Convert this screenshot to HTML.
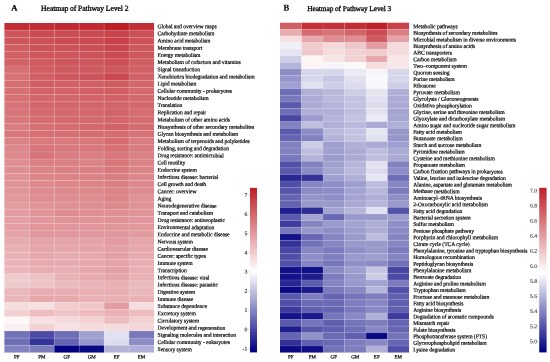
<!DOCTYPE html>
<html><head><meta charset="utf-8"><style>
html,body{margin:0;padding:0;background:#fff;}
body{width:550px;height:362px;overflow:hidden;}
svg{display:block;filter:blur(0.3px);}
text{font-family:"Liberation Serif",serif;fill:#000;stroke:#000;stroke-width:0.18px;}
.rl{font-size:5.7px;letter-spacing:-0.09px;}
.xl{font-size:5px;stroke-width:0.2px;}
.cl{font-size:5.7px;fill:#222;stroke:#222;stroke-width:0.12px;}
.cb{font-size:5.7px;fill:#444;stroke:#444;}
.pl{font-size:8.6px;font-weight:bold;stroke-width:0.2px;}
.tt{font-size:7.7px;stroke-width:0.3px;letter-spacing:-0.09px;}
</style></head><body>
<svg width="550" height="362" viewBox="0 0 550 362">
<rect x="4.40" y="23.00" width="24.98" height="7.21" fill="#c22c34"/>
<rect x="29.33" y="23.00" width="24.98" height="7.21" fill="#c22c34"/>
<rect x="54.27" y="23.00" width="24.98" height="7.21" fill="#c12a32"/>
<rect x="79.20" y="23.00" width="24.98" height="7.21" fill="#c12a32"/>
<rect x="104.13" y="23.00" width="24.98" height="7.21" fill="#be2028"/>
<rect x="129.07" y="23.00" width="24.98" height="7.21" fill="#c22e36"/>
<rect x="4.40" y="30.16" width="24.98" height="7.21" fill="#ce555c"/>
<rect x="29.33" y="30.16" width="24.98" height="7.21" fill="#cb4b52"/>
<rect x="54.27" y="30.16" width="24.98" height="7.21" fill="#cb4d54"/>
<rect x="79.20" y="30.16" width="24.98" height="7.21" fill="#cb4b52"/>
<rect x="104.13" y="30.16" width="24.98" height="7.21" fill="#c8434a"/>
<rect x="129.07" y="30.16" width="24.98" height="7.21" fill="#cc5057"/>
<rect x="4.40" y="37.33" width="24.98" height="7.21" fill="#ce575e"/>
<rect x="29.33" y="37.33" width="24.98" height="7.21" fill="#cc5057"/>
<rect x="54.27" y="37.33" width="24.98" height="7.21" fill="#cb4d54"/>
<rect x="79.20" y="37.33" width="24.98" height="7.21" fill="#cb4b52"/>
<rect x="104.13" y="37.33" width="24.98" height="7.21" fill="#c84148"/>
<rect x="129.07" y="37.33" width="24.98" height="7.21" fill="#cd5259"/>
<rect x="4.40" y="44.49" width="24.98" height="7.21" fill="#d05e63"/>
<rect x="29.33" y="44.49" width="24.98" height="7.21" fill="#cd535a"/>
<rect x="54.27" y="44.49" width="24.98" height="7.21" fill="#cd535a"/>
<rect x="79.20" y="44.49" width="24.98" height="7.21" fill="#cc5057"/>
<rect x="104.13" y="44.49" width="24.98" height="7.21" fill="#c9464d"/>
<rect x="129.07" y="44.49" width="24.98" height="7.21" fill="#ce575e"/>
<rect x="4.40" y="51.65" width="24.98" height="7.21" fill="#d16065"/>
<rect x="29.33" y="51.65" width="24.98" height="7.21" fill="#ce575e"/>
<rect x="54.27" y="51.65" width="24.98" height="7.21" fill="#ce575e"/>
<rect x="79.20" y="51.65" width="24.98" height="7.21" fill="#cd535a"/>
<rect x="104.13" y="51.65" width="24.98" height="7.21" fill="#cb4b52"/>
<rect x="129.07" y="51.65" width="24.98" height="7.21" fill="#ce575e"/>
<rect x="4.40" y="58.82" width="24.98" height="7.21" fill="#d16368"/>
<rect x="29.33" y="58.82" width="24.98" height="7.21" fill="#cf5b60"/>
<rect x="54.27" y="58.82" width="24.98" height="7.21" fill="#ce575e"/>
<rect x="79.20" y="58.82" width="24.98" height="7.21" fill="#ce575e"/>
<rect x="104.13" y="58.82" width="24.98" height="7.21" fill="#cc5057"/>
<rect x="129.07" y="58.82" width="24.98" height="7.21" fill="#d05d62"/>
<rect x="4.40" y="65.98" width="24.98" height="7.21" fill="#d56f74"/>
<rect x="29.33" y="65.98" width="24.98" height="7.21" fill="#d05e63"/>
<rect x="54.27" y="65.98" width="24.98" height="7.21" fill="#cf5b60"/>
<rect x="79.20" y="65.98" width="24.98" height="7.21" fill="#cf5b60"/>
<rect x="104.13" y="65.98" width="24.98" height="7.21" fill="#ce575e"/>
<rect x="129.07" y="65.98" width="24.98" height="7.21" fill="#d16065"/>
<rect x="4.40" y="73.14" width="24.98" height="7.21" fill="#d67277"/>
<rect x="29.33" y="73.14" width="24.98" height="7.21" fill="#d16065"/>
<rect x="54.27" y="73.14" width="24.98" height="7.21" fill="#ce575e"/>
<rect x="79.20" y="73.14" width="24.98" height="7.21" fill="#cd535a"/>
<rect x="104.13" y="73.14" width="24.98" height="7.21" fill="#ca4950"/>
<rect x="129.07" y="73.14" width="24.98" height="7.21" fill="#d16267"/>
<rect x="4.40" y="80.30" width="24.98" height="7.21" fill="#d56e73"/>
<rect x="29.33" y="80.30" width="24.98" height="7.21" fill="#d05f64"/>
<rect x="54.27" y="80.30" width="24.98" height="7.21" fill="#d16166"/>
<rect x="79.20" y="80.30" width="24.98" height="7.21" fill="#d16166"/>
<rect x="104.13" y="80.30" width="24.98" height="7.21" fill="#cf5c61"/>
<rect x="129.07" y="80.30" width="24.98" height="7.21" fill="#d2666b"/>
<rect x="4.40" y="87.47" width="24.98" height="7.21" fill="#d57075"/>
<rect x="29.33" y="87.47" width="24.98" height="7.21" fill="#d16267"/>
<rect x="54.27" y="87.47" width="24.98" height="7.21" fill="#d26469"/>
<rect x="79.20" y="87.47" width="24.98" height="7.21" fill="#d16166"/>
<rect x="104.13" y="87.47" width="24.98" height="7.21" fill="#d05e63"/>
<rect x="129.07" y="87.47" width="24.98" height="7.21" fill="#d3696e"/>
<rect x="4.40" y="94.63" width="24.98" height="7.21" fill="#d57075"/>
<rect x="29.33" y="94.63" width="24.98" height="7.21" fill="#d2666b"/>
<rect x="54.27" y="94.63" width="24.98" height="7.21" fill="#d2666b"/>
<rect x="79.20" y="94.63" width="24.98" height="7.21" fill="#d26469"/>
<rect x="104.13" y="94.63" width="24.98" height="7.21" fill="#d16368"/>
<rect x="129.07" y="94.63" width="24.98" height="7.21" fill="#d3696e"/>
<rect x="4.40" y="101.79" width="24.98" height="7.21" fill="#d67378"/>
<rect x="29.33" y="101.79" width="24.98" height="7.21" fill="#d3676c"/>
<rect x="54.27" y="101.79" width="24.98" height="7.21" fill="#d3676c"/>
<rect x="79.20" y="101.79" width="24.98" height="7.21" fill="#d2666b"/>
<rect x="104.13" y="101.79" width="24.98" height="7.21" fill="#d2656a"/>
<rect x="129.07" y="101.79" width="24.98" height="7.21" fill="#d3696e"/>
<rect x="4.40" y="108.96" width="24.98" height="7.21" fill="#d7757a"/>
<rect x="29.33" y="108.96" width="24.98" height="7.21" fill="#d3696e"/>
<rect x="54.27" y="108.96" width="24.98" height="7.21" fill="#d3696e"/>
<rect x="79.20" y="108.96" width="24.98" height="7.21" fill="#d3676c"/>
<rect x="104.13" y="108.96" width="24.98" height="7.21" fill="#d16368"/>
<rect x="129.07" y="108.96" width="24.98" height="7.21" fill="#d46c71"/>
<rect x="4.40" y="116.12" width="24.98" height="7.21" fill="#d7767b"/>
<rect x="29.33" y="116.12" width="24.98" height="7.21" fill="#d46c71"/>
<rect x="54.27" y="116.12" width="24.98" height="7.21" fill="#d46a6f"/>
<rect x="79.20" y="116.12" width="24.98" height="7.21" fill="#d3686d"/>
<rect x="104.13" y="116.12" width="24.98" height="7.21" fill="#d2666b"/>
<rect x="129.07" y="116.12" width="24.98" height="7.21" fill="#d46c71"/>
<rect x="4.40" y="123.28" width="24.98" height="7.21" fill="#d97e82"/>
<rect x="29.33" y="123.28" width="24.98" height="7.21" fill="#d57075"/>
<rect x="54.27" y="123.28" width="24.98" height="7.21" fill="#d46c71"/>
<rect x="79.20" y="123.28" width="24.98" height="7.21" fill="#d46a6f"/>
<rect x="104.13" y="123.28" width="24.98" height="7.21" fill="#d16368"/>
<rect x="129.07" y="123.28" width="24.98" height="7.21" fill="#d56e73"/>
<rect x="4.40" y="130.45" width="24.98" height="7.21" fill="#d8787d"/>
<rect x="29.33" y="130.45" width="24.98" height="7.21" fill="#d57075"/>
<rect x="54.27" y="130.45" width="24.98" height="7.21" fill="#d57075"/>
<rect x="79.20" y="130.45" width="24.98" height="7.21" fill="#d56e73"/>
<rect x="104.13" y="130.45" width="24.98" height="7.21" fill="#d46d72"/>
<rect x="129.07" y="130.45" width="24.98" height="7.21" fill="#d67378"/>
<rect x="4.40" y="137.61" width="24.98" height="7.21" fill="#db8488"/>
<rect x="29.33" y="137.61" width="24.98" height="7.21" fill="#d8797e"/>
<rect x="54.27" y="137.61" width="24.98" height="7.21" fill="#d8797e"/>
<rect x="79.20" y="137.61" width="24.98" height="7.21" fill="#d7777c"/>
<rect x="104.13" y="137.61" width="24.98" height="7.21" fill="#d46c71"/>
<rect x="129.07" y="137.61" width="24.98" height="7.21" fill="#d97c81"/>
<rect x="4.40" y="144.77" width="24.98" height="7.21" fill="#dc878b"/>
<rect x="29.33" y="144.77" width="24.98" height="7.21" fill="#d7767b"/>
<rect x="54.27" y="144.77" width="24.98" height="7.21" fill="#d8797e"/>
<rect x="79.20" y="144.77" width="24.98" height="7.21" fill="#d8797e"/>
<rect x="104.13" y="144.77" width="24.98" height="7.21" fill="#d67176"/>
<rect x="129.07" y="144.77" width="24.98" height="7.21" fill="#d97c81"/>
<rect x="4.40" y="151.93" width="24.98" height="7.21" fill="#dd898d"/>
<rect x="29.33" y="151.93" width="24.98" height="7.21" fill="#d77479"/>
<rect x="54.27" y="151.93" width="24.98" height="7.21" fill="#d97c81"/>
<rect x="79.20" y="151.93" width="24.98" height="7.21" fill="#da7f83"/>
<rect x="104.13" y="151.93" width="24.98" height="7.21" fill="#d8787d"/>
<rect x="129.07" y="151.93" width="24.98" height="7.21" fill="#da8185"/>
<rect x="4.40" y="159.10" width="24.98" height="7.21" fill="#de8e92"/>
<rect x="29.33" y="159.10" width="24.98" height="7.21" fill="#da8185"/>
<rect x="54.27" y="159.10" width="24.98" height="7.21" fill="#da8185"/>
<rect x="79.20" y="159.10" width="24.98" height="7.21" fill="#db8488"/>
<rect x="104.13" y="159.10" width="24.98" height="7.21" fill="#d7767b"/>
<rect x="129.07" y="159.10" width="24.98" height="7.21" fill="#db8488"/>
<rect x="4.40" y="166.26" width="24.98" height="7.21" fill="#de8e92"/>
<rect x="29.33" y="166.26" width="24.98" height="7.21" fill="#db8488"/>
<rect x="54.27" y="166.26" width="24.98" height="7.21" fill="#da8185"/>
<rect x="79.20" y="166.26" width="24.98" height="7.21" fill="#da8185"/>
<rect x="104.13" y="166.26" width="24.98" height="7.21" fill="#d8787d"/>
<rect x="129.07" y="166.26" width="24.98" height="7.21" fill="#db8488"/>
<rect x="4.40" y="173.42" width="24.98" height="7.21" fill="#df9195"/>
<rect x="29.33" y="173.42" width="24.98" height="7.21" fill="#dc868a"/>
<rect x="54.27" y="173.42" width="24.98" height="7.21" fill="#db8488"/>
<rect x="79.20" y="173.42" width="24.98" height="7.21" fill="#db8488"/>
<rect x="104.13" y="173.42" width="24.98" height="7.21" fill="#d97e82"/>
<rect x="129.07" y="173.42" width="24.98" height="7.21" fill="#dc878b"/>
<rect x="4.40" y="180.59" width="24.98" height="7.21" fill="#e09397"/>
<rect x="29.33" y="180.59" width="24.98" height="7.21" fill="#dd898d"/>
<rect x="54.27" y="180.59" width="24.98" height="7.21" fill="#dc878b"/>
<rect x="79.20" y="180.59" width="24.98" height="7.21" fill="#dc868a"/>
<rect x="104.13" y="180.59" width="24.98" height="7.21" fill="#da8084"/>
<rect x="129.07" y="180.59" width="24.98" height="7.21" fill="#dd898d"/>
<rect x="4.40" y="187.75" width="24.98" height="7.21" fill="#e09599"/>
<rect x="29.33" y="187.75" width="24.98" height="7.21" fill="#dd8b8f"/>
<rect x="54.27" y="187.75" width="24.98" height="7.21" fill="#dd898d"/>
<rect x="79.20" y="187.75" width="24.98" height="7.21" fill="#dc878b"/>
<rect x="104.13" y="187.75" width="24.98" height="7.21" fill="#db8387"/>
<rect x="129.07" y="187.75" width="24.98" height="7.21" fill="#dd8b8f"/>
<rect x="4.40" y="194.91" width="24.98" height="7.21" fill="#e1989c"/>
<rect x="29.33" y="194.91" width="24.98" height="7.21" fill="#de8e92"/>
<rect x="54.27" y="194.91" width="24.98" height="7.21" fill="#de8e92"/>
<rect x="79.20" y="194.91" width="24.98" height="7.21" fill="#dd8c90"/>
<rect x="104.13" y="194.91" width="24.98" height="7.21" fill="#db8589"/>
<rect x="129.07" y="194.91" width="24.98" height="7.21" fill="#df9195"/>
<rect x="4.40" y="202.08" width="24.98" height="7.21" fill="#e29b9f"/>
<rect x="29.33" y="202.08" width="24.98" height="7.21" fill="#e09397"/>
<rect x="54.27" y="202.08" width="24.98" height="7.21" fill="#df9094"/>
<rect x="79.20" y="202.08" width="24.98" height="7.21" fill="#de8e92"/>
<rect x="104.13" y="202.08" width="24.98" height="7.21" fill="#dc888c"/>
<rect x="129.07" y="202.08" width="24.98" height="7.21" fill="#e09397"/>
<rect x="4.40" y="209.24" width="24.98" height="7.21" fill="#e39da1"/>
<rect x="29.33" y="209.24" width="24.98" height="7.21" fill="#e09599"/>
<rect x="54.27" y="209.24" width="24.98" height="7.21" fill="#dd8c90"/>
<rect x="79.20" y="209.24" width="24.98" height="7.21" fill="#de8e92"/>
<rect x="104.13" y="209.24" width="24.98" height="7.21" fill="#df9094"/>
<rect x="129.07" y="209.24" width="24.98" height="7.21" fill="#e09397"/>
<rect x="4.40" y="216.40" width="24.98" height="7.21" fill="#e39fa3"/>
<rect x="29.33" y="216.40" width="24.98" height="7.21" fill="#e0969a"/>
<rect x="54.27" y="216.40" width="24.98" height="7.21" fill="#e09397"/>
<rect x="79.20" y="216.40" width="24.98" height="7.21" fill="#e09397"/>
<rect x="104.13" y="216.40" width="24.98" height="7.21" fill="#e09397"/>
<rect x="129.07" y="216.40" width="24.98" height="7.21" fill="#e0969a"/>
<rect x="4.40" y="223.57" width="24.98" height="7.21" fill="#e39fa3"/>
<rect x="29.33" y="223.57" width="24.98" height="7.21" fill="#e09599"/>
<rect x="54.27" y="223.57" width="24.98" height="7.21" fill="#e0969a"/>
<rect x="79.20" y="223.57" width="24.98" height="7.21" fill="#e0969a"/>
<rect x="104.13" y="223.57" width="24.98" height="7.21" fill="#e09599"/>
<rect x="129.07" y="223.57" width="24.98" height="7.21" fill="#e1989c"/>
<rect x="4.40" y="230.73" width="24.98" height="7.21" fill="#e4a3a6"/>
<rect x="29.33" y="230.73" width="24.98" height="7.21" fill="#e1989c"/>
<rect x="54.27" y="230.73" width="24.98" height="7.21" fill="#e0969a"/>
<rect x="79.20" y="230.73" width="24.98" height="7.21" fill="#e1989c"/>
<rect x="104.13" y="230.73" width="24.98" height="7.21" fill="#e1989c"/>
<rect x="129.07" y="230.73" width="24.98" height="7.21" fill="#e29b9f"/>
<rect x="4.40" y="237.89" width="24.98" height="7.21" fill="#e6abae"/>
<rect x="29.33" y="237.89" width="24.98" height="7.21" fill="#e4a4a7"/>
<rect x="54.27" y="237.89" width="24.98" height="7.21" fill="#e4a4a7"/>
<rect x="79.20" y="237.89" width="24.98" height="7.21" fill="#e4a4a7"/>
<rect x="104.13" y="237.89" width="24.98" height="7.21" fill="#e29b9f"/>
<rect x="129.07" y="237.89" width="24.98" height="7.21" fill="#e5a6a9"/>
<rect x="4.40" y="245.05" width="24.98" height="7.21" fill="#e8b0b3"/>
<rect x="29.33" y="245.05" width="24.98" height="7.21" fill="#e5a6a9"/>
<rect x="54.27" y="245.05" width="24.98" height="7.21" fill="#e5a6a9"/>
<rect x="79.20" y="245.05" width="24.98" height="7.21" fill="#e4a4a7"/>
<rect x="104.13" y="245.05" width="24.98" height="7.21" fill="#e3a0a4"/>
<rect x="129.07" y="245.05" width="24.98" height="7.21" fill="#e6a8ab"/>
<rect x="4.40" y="252.22" width="24.98" height="7.21" fill="#e9b2b5"/>
<rect x="29.33" y="252.22" width="24.98" height="7.21" fill="#e6a8ab"/>
<rect x="54.27" y="252.22" width="24.98" height="7.21" fill="#e6abae"/>
<rect x="79.20" y="252.22" width="24.98" height="7.21" fill="#e6a8ab"/>
<rect x="104.13" y="252.22" width="24.98" height="7.21" fill="#e3a0a4"/>
<rect x="129.07" y="252.22" width="24.98" height="7.21" fill="#e6abae"/>
<rect x="4.40" y="259.38" width="24.98" height="7.21" fill="#e9b5b8"/>
<rect x="29.33" y="259.38" width="24.98" height="7.21" fill="#e6abae"/>
<rect x="54.27" y="259.38" width="24.98" height="7.21" fill="#e6abae"/>
<rect x="79.20" y="259.38" width="24.98" height="7.21" fill="#e6a8ab"/>
<rect x="104.13" y="259.38" width="24.98" height="7.21" fill="#e4a4a7"/>
<rect x="129.07" y="259.38" width="24.98" height="7.21" fill="#e7adb0"/>
<rect x="4.40" y="266.54" width="24.98" height="7.21" fill="#e9b5b8"/>
<rect x="29.33" y="266.54" width="24.98" height="7.21" fill="#e7adb0"/>
<rect x="54.27" y="266.54" width="24.98" height="7.21" fill="#e8b0b3"/>
<rect x="79.20" y="266.54" width="24.98" height="7.21" fill="#e6a8ab"/>
<rect x="104.13" y="266.54" width="24.98" height="7.21" fill="#e3a0a4"/>
<rect x="129.07" y="266.54" width="24.98" height="7.21" fill="#e8b0b3"/>
<rect x="4.40" y="273.71" width="24.98" height="7.21" fill="#efcacb"/>
<rect x="29.33" y="273.71" width="24.98" height="7.21" fill="#edc2c5"/>
<rect x="54.27" y="273.71" width="24.98" height="7.21" fill="#e9b2b5"/>
<rect x="79.20" y="273.71" width="24.98" height="7.21" fill="#e6abae"/>
<rect x="104.13" y="273.71" width="24.98" height="7.21" fill="#e5a6a9"/>
<rect x="129.07" y="273.71" width="24.98" height="7.21" fill="#e9b2b5"/>
<rect x="4.40" y="280.87" width="24.98" height="7.21" fill="#efcacb"/>
<rect x="29.33" y="280.87" width="24.98" height="7.21" fill="#eec4c7"/>
<rect x="54.27" y="280.87" width="24.98" height="7.21" fill="#ebbabd"/>
<rect x="79.20" y="280.87" width="24.98" height="7.21" fill="#e9b5b8"/>
<rect x="104.13" y="280.87" width="24.98" height="7.21" fill="#e8b0b3"/>
<rect x="129.07" y="280.87" width="24.98" height="7.21" fill="#ebbabd"/>
<rect x="4.40" y="288.03" width="24.98" height="7.21" fill="#eab7ba"/>
<rect x="29.33" y="288.03" width="24.98" height="7.21" fill="#e7adb0"/>
<rect x="54.27" y="288.03" width="24.98" height="7.21" fill="#e7adb0"/>
<rect x="79.20" y="288.03" width="24.98" height="7.21" fill="#e8b0b3"/>
<rect x="104.13" y="288.03" width="24.98" height="7.21" fill="#e7adb0"/>
<rect x="129.07" y="288.03" width="24.98" height="7.21" fill="#eab7ba"/>
<rect x="4.40" y="295.20" width="24.98" height="7.21" fill="#eab7ba"/>
<rect x="29.33" y="295.20" width="24.98" height="7.21" fill="#e6a8ab"/>
<rect x="54.27" y="295.20" width="24.98" height="7.21" fill="#e6aaad"/>
<rect x="79.20" y="295.20" width="24.98" height="7.21" fill="#e8b0b3"/>
<rect x="104.13" y="295.20" width="24.98" height="7.21" fill="#e8b0b3"/>
<rect x="129.07" y="295.20" width="24.98" height="7.21" fill="#e9b2b5"/>
<rect x="4.40" y="302.36" width="24.98" height="7.21" fill="#f5ddde"/>
<rect x="29.33" y="302.36" width="24.98" height="7.21" fill="#f6e0e1"/>
<rect x="54.27" y="302.36" width="24.98" height="7.21" fill="#f0cccd"/>
<rect x="79.20" y="302.36" width="24.98" height="7.21" fill="#efc6c9"/>
<rect x="104.13" y="302.36" width="24.98" height="7.21" fill="#e39da1"/>
<rect x="129.07" y="302.36" width="24.98" height="7.21" fill="#f5ddde"/>
<rect x="4.40" y="309.52" width="24.98" height="7.21" fill="#f2d1d2"/>
<rect x="29.33" y="309.52" width="24.98" height="7.21" fill="#ecbcbf"/>
<rect x="54.27" y="309.52" width="24.98" height="7.21" fill="#eec4c7"/>
<rect x="79.20" y="309.52" width="24.98" height="7.21" fill="#ecbcbf"/>
<rect x="104.13" y="309.52" width="24.98" height="7.21" fill="#e9b2b5"/>
<rect x="129.07" y="309.52" width="24.98" height="7.21" fill="#ecbcbf"/>
<rect x="4.40" y="316.68" width="24.98" height="7.21" fill="#fdf8f8"/>
<rect x="29.33" y="316.68" width="24.98" height="7.21" fill="#f6e0e1"/>
<rect x="54.27" y="316.68" width="24.98" height="7.21" fill="#f4d9da"/>
<rect x="79.20" y="316.68" width="24.98" height="7.21" fill="#f2d1d2"/>
<rect x="104.13" y="316.68" width="24.98" height="7.21" fill="#ecbcbf"/>
<rect x="129.07" y="316.68" width="24.98" height="7.21" fill="#f2d1d2"/>
<rect x="4.40" y="323.85" width="24.98" height="7.21" fill="#fbf0f0"/>
<rect x="29.33" y="323.85" width="24.98" height="7.21" fill="#f2d1d2"/>
<rect x="54.27" y="323.85" width="24.98" height="7.21" fill="#f6e0e1"/>
<rect x="79.20" y="323.85" width="24.98" height="7.21" fill="#f5dbdc"/>
<rect x="104.13" y="323.85" width="24.98" height="7.21" fill="#f5ddde"/>
<rect x="129.07" y="323.85" width="24.98" height="7.21" fill="#f3d6d7"/>
<rect x="4.40" y="331.01" width="24.98" height="7.21" fill="#7373b9"/>
<rect x="29.33" y="331.01" width="24.98" height="7.21" fill="#4b4ba5"/>
<rect x="54.27" y="331.01" width="24.98" height="7.21" fill="#6e6eb7"/>
<rect x="79.20" y="331.01" width="24.98" height="7.21" fill="#a0a0d0"/>
<rect x="104.13" y="331.01" width="24.98" height="7.21" fill="#e1e1f0"/>
<rect x="129.07" y="331.01" width="24.98" height="7.21" fill="#7878bc"/>
<rect x="4.40" y="338.17" width="24.98" height="7.21" fill="#6e6eb7"/>
<rect x="29.33" y="338.17" width="24.98" height="7.21" fill="#323299"/>
<rect x="54.27" y="338.17" width="24.98" height="7.21" fill="#6464b2"/>
<rect x="79.20" y="338.17" width="24.98" height="7.21" fill="#9696cb"/>
<rect x="104.13" y="338.17" width="24.98" height="7.21" fill="#dcdcee"/>
<rect x="129.07" y="338.17" width="24.98" height="7.21" fill="#8c8cc6"/>
<rect x="4.40" y="345.34" width="24.98" height="7.21" fill="#8282c1"/>
<rect x="29.33" y="345.34" width="24.98" height="7.21" fill="#7d7dbe"/>
<rect x="54.27" y="345.34" width="24.98" height="7.21" fill="#000080"/>
<rect x="79.20" y="345.34" width="24.98" height="7.21" fill="#0a0a85"/>
<rect x="104.13" y="345.34" width="24.98" height="7.21" fill="#b4b4da"/>
<rect x="129.07" y="345.34" width="24.98" height="7.21" fill="#afafd7"/>
<path d="M29.33 23.00V352.50M54.27 23.00V352.50M79.20 23.00V352.50M104.13 23.00V352.50M129.07 23.00V352.50M4.40 30.16H154.00M4.40 37.33H154.00M4.40 44.49H154.00M4.40 51.65H154.00M4.40 58.82H154.00M4.40 65.98H154.00M4.40 73.14H154.00M4.40 80.30H154.00M4.40 87.47H154.00M4.40 94.63H154.00M4.40 101.79H154.00M4.40 108.96H154.00M4.40 116.12H154.00M4.40 123.28H154.00M4.40 130.45H154.00M4.40 137.61H154.00M4.40 144.77H154.00M4.40 151.93H154.00M4.40 159.10H154.00M4.40 166.26H154.00M4.40 173.42H154.00M4.40 180.59H154.00M4.40 187.75H154.00M4.40 194.91H154.00M4.40 202.08H154.00M4.40 209.24H154.00M4.40 216.40H154.00M4.40 223.57H154.00M4.40 230.73H154.00M4.40 237.89H154.00M4.40 245.05H154.00M4.40 252.22H154.00M4.40 259.38H154.00M4.40 266.54H154.00M4.40 273.71H154.00M4.40 280.87H154.00M4.40 288.03H154.00M4.40 295.20H154.00M4.40 302.36H154.00M4.40 309.52H154.00M4.40 316.68H154.00M4.40 323.85H154.00M4.40 331.01H154.00M4.40 338.17H154.00M4.40 345.34H154.00" stroke="#ffffff" stroke-opacity="0.18" stroke-width="0.7" fill="none"/>
<text x="157.60" y="28.15" transform="rotate(0.05 157.60 28.15)" class="rl">Global and overview maps</text>
<text x="157.60" y="35.32" transform="rotate(0.05 157.60 35.32)" class="rl">Carbohydrate metabolism</text>
<text x="157.60" y="42.50" transform="rotate(0.05 157.60 42.50)" class="rl">Amino acid metabolism</text>
<text x="157.60" y="49.68" transform="rotate(0.05 157.60 49.68)" class="rl">Membrane transport</text>
<text x="157.60" y="56.86" transform="rotate(0.05 157.60 56.86)" class="rl">Energy metabolism</text>
<text x="157.60" y="64.03" transform="rotate(0.05 157.60 64.03)" class="rl">Metabolism of cofactors and vitamins</text>
<text x="157.60" y="71.21" transform="rotate(0.05 157.60 71.21)" class="rl">Signal transduction</text>
<text x="157.60" y="78.39" transform="rotate(0.05 157.60 78.39)" class="rl">Xenobiotics biodegradation and metabolism</text>
<text x="157.60" y="85.57" transform="rotate(0.05 157.60 85.57)" class="rl">Lipid metabolism</text>
<text x="157.60" y="92.74" transform="rotate(0.05 157.60 92.74)" class="rl">Cellular community - prokaryotes</text>
<text x="157.60" y="99.92" transform="rotate(0.05 157.60 99.92)" class="rl">Nucleotide metabolism</text>
<text x="157.60" y="107.10" transform="rotate(0.05 157.60 107.10)" class="rl">Translation</text>
<text x="157.60" y="114.28" transform="rotate(0.05 157.60 114.28)" class="rl">Replication and repair</text>
<text x="157.60" y="121.45" transform="rotate(0.05 157.60 121.45)" class="rl">Metabolism of other amino acids</text>
<text x="157.60" y="128.63" transform="rotate(0.05 157.60 128.63)" class="rl">Biosynthesis of other secondary metabolites</text>
<text x="157.60" y="135.81" transform="rotate(0.05 157.60 135.81)" class="rl">Glycan biosynthesis and metabolism</text>
<text x="157.60" y="142.99" transform="rotate(0.05 157.60 142.99)" class="rl">Metabolism of terpenoids and polyketides</text>
<text x="157.60" y="150.16" transform="rotate(0.05 157.60 150.16)" class="rl">Folding, sorting and degradation</text>
<text x="157.60" y="157.34" transform="rotate(0.05 157.60 157.34)" class="rl">Drug resistance: antimicrobial</text>
<text x="157.60" y="164.52" transform="rotate(0.05 157.60 164.52)" class="rl">Cell motility</text>
<text x="157.60" y="171.70" transform="rotate(0.05 157.60 171.70)" class="rl">Endocrine system</text>
<text x="157.60" y="178.87" transform="rotate(0.05 157.60 178.87)" class="rl">Infectious disease: bacterial</text>
<text x="157.60" y="186.05" transform="rotate(0.05 157.60 186.05)" class="rl">Cell growth and death</text>
<text x="157.60" y="193.23" transform="rotate(0.05 157.60 193.23)" class="rl">Cancer: overview</text>
<text x="157.60" y="200.41" transform="rotate(0.05 157.60 200.41)" class="rl">Aging</text>
<text x="157.60" y="207.58" transform="rotate(0.05 157.60 207.58)" class="rl">Neurodegenerative disease</text>
<text x="157.60" y="214.76" transform="rotate(0.05 157.60 214.76)" class="rl">Transport and catabolism</text>
<text x="157.60" y="221.94" transform="rotate(0.05 157.60 221.94)" class="rl">Drug resistance: antineoplastic</text>
<text x="157.60" y="229.12" transform="rotate(0.05 157.60 229.12)" class="rl">Environmental adaptation</text>
<text x="157.60" y="236.29" transform="rotate(0.05 157.60 236.29)" class="rl">Endocrine and metabolic disease</text>
<text x="157.60" y="243.47" transform="rotate(0.05 157.60 243.47)" class="rl">Nervous system</text>
<text x="157.60" y="250.65" transform="rotate(0.05 157.60 250.65)" class="rl">Cardiovascular disease</text>
<text x="157.60" y="257.83" transform="rotate(0.05 157.60 257.83)" class="rl">Cancer: specific types</text>
<text x="157.60" y="265.00" transform="rotate(0.05 157.60 265.00)" class="rl">Immune system</text>
<text x="157.60" y="272.18" transform="rotate(0.05 157.60 272.18)" class="rl">Transcription</text>
<text x="157.60" y="279.36" transform="rotate(0.05 157.60 279.36)" class="rl">Infectious disease: viral</text>
<text x="157.60" y="286.54" transform="rotate(0.05 157.60 286.54)" class="rl">Infectious disease: parasitic</text>
<text x="157.60" y="293.71" transform="rotate(0.05 157.60 293.71)" class="rl">Digestive system</text>
<text x="157.60" y="300.89" transform="rotate(0.05 157.60 300.89)" class="rl">Immune disease</text>
<text x="157.60" y="308.07" transform="rotate(0.05 157.60 308.07)" class="rl">Substance dependence</text>
<text x="157.60" y="315.25" transform="rotate(0.05 157.60 315.25)" class="rl">Excretory system</text>
<text x="157.60" y="322.42" transform="rotate(0.05 157.60 322.42)" class="rl">Circulatory system</text>
<text x="157.60" y="329.60" transform="rotate(0.05 157.60 329.60)" class="rl">Development and regeneration</text>
<text x="157.60" y="336.78" transform="rotate(0.05 157.60 336.78)" class="rl">Signaling molecules and interaction</text>
<text x="157.60" y="343.96" transform="rotate(0.05 157.60 343.96)" class="rl">Cellular community - eukaryotes</text>
<text x="157.60" y="351.13" transform="rotate(0.05 157.60 351.13)" class="rl">Sensory system</text>
<text x="16.87" y="358.40" transform="rotate(0.05 16.87 358.40)" class="xl" text-anchor="middle">PF</text>
<text x="41.80" y="358.40" transform="rotate(0.05 41.80 358.40)" class="xl" text-anchor="middle">PM</text>
<text x="66.73" y="358.40" transform="rotate(0.05 66.73 358.40)" class="xl" text-anchor="middle">GF</text>
<text x="91.67" y="358.40" transform="rotate(0.05 91.67 358.40)" class="xl" text-anchor="middle">GM</text>
<text x="116.60" y="358.40" transform="rotate(0.05 116.60 358.40)" class="xl" text-anchor="middle">EF</text>
<text x="141.53" y="358.40" transform="rotate(0.05 141.53 358.40)" class="xl" text-anchor="middle">EM</text>
<rect x="280.00" y="22.70" width="21.55" height="6.65" fill="#d16065"/>
<rect x="301.50" y="22.70" width="21.55" height="6.65" fill="#c33139"/>
<rect x="323.00" y="22.70" width="21.55" height="6.65" fill="#c33139"/>
<rect x="344.50" y="22.70" width="21.55" height="6.65" fill="#c22c34"/>
<rect x="366.00" y="22.70" width="21.55" height="6.65" fill="#be2028"/>
<rect x="387.50" y="22.70" width="21.55" height="6.65" fill="#c84148"/>
<rect x="280.00" y="29.30" width="21.55" height="6.65" fill="#e7adb0"/>
<rect x="301.50" y="29.30" width="21.55" height="6.65" fill="#d46a6f"/>
<rect x="323.00" y="29.30" width="21.55" height="6.65" fill="#d77479"/>
<rect x="344.50" y="29.30" width="21.55" height="6.65" fill="#d2656a"/>
<rect x="366.00" y="29.30" width="21.55" height="6.65" fill="#cb4b52"/>
<rect x="387.50" y="29.30" width="21.55" height="6.65" fill="#da7f83"/>
<rect x="280.00" y="35.89" width="21.55" height="6.65" fill="#f6e0e1"/>
<rect x="301.50" y="35.89" width="21.55" height="6.65" fill="#e6a8ab"/>
<rect x="323.00" y="35.89" width="21.55" height="6.65" fill="#de8e92"/>
<rect x="344.50" y="35.89" width="21.55" height="6.65" fill="#de8e92"/>
<rect x="366.00" y="35.89" width="21.55" height="6.65" fill="#cf5b60"/>
<rect x="387.50" y="35.89" width="21.55" height="6.65" fill="#e4a3a6"/>
<rect x="280.00" y="42.49" width="21.55" height="6.65" fill="#f0f0f8"/>
<rect x="301.50" y="42.49" width="21.55" height="6.65" fill="#f0cccd"/>
<rect x="323.00" y="42.49" width="21.55" height="6.65" fill="#f5dbdc"/>
<rect x="344.50" y="42.49" width="21.55" height="6.65" fill="#efc6c9"/>
<rect x="366.00" y="42.49" width="21.55" height="6.65" fill="#e39da1"/>
<rect x="387.50" y="42.49" width="21.55" height="6.65" fill="#f5dbdc"/>
<rect x="280.00" y="49.08" width="21.55" height="6.65" fill="#e4e4f2"/>
<rect x="301.50" y="49.08" width="21.55" height="6.65" fill="#efc6c9"/>
<rect x="323.00" y="49.08" width="21.55" height="6.65" fill="#f5ddde"/>
<rect x="344.50" y="49.08" width="21.55" height="6.65" fill="#f2d1d2"/>
<rect x="366.00" y="49.08" width="21.55" height="6.65" fill="#f0cccd"/>
<rect x="387.50" y="49.08" width="21.55" height="6.65" fill="#f5dbdc"/>
<rect x="280.00" y="55.68" width="21.55" height="6.65" fill="#cdcde6"/>
<rect x="301.50" y="55.68" width="21.55" height="6.65" fill="#fcf5f5"/>
<rect x="323.00" y="55.68" width="21.55" height="6.65" fill="#f8e5e6"/>
<rect x="344.50" y="55.68" width="21.55" height="6.65" fill="#f2d3d4"/>
<rect x="366.00" y="55.68" width="21.55" height="6.65" fill="#e6a8ab"/>
<rect x="387.50" y="55.68" width="21.55" height="6.65" fill="#f8e7e8"/>
<rect x="280.00" y="62.28" width="21.55" height="6.65" fill="#b4b4da"/>
<rect x="301.50" y="62.28" width="21.55" height="6.65" fill="#fcf5f5"/>
<rect x="323.00" y="62.28" width="21.55" height="6.65" fill="#f5f5fa"/>
<rect x="344.50" y="62.28" width="21.55" height="6.65" fill="#fefafa"/>
<rect x="366.00" y="62.28" width="21.55" height="6.65" fill="#f5ddde"/>
<rect x="387.50" y="62.28" width="21.55" height="6.65" fill="#f8e7e8"/>
<rect x="280.00" y="68.87" width="21.55" height="6.65" fill="#8c8cc6"/>
<rect x="301.50" y="68.87" width="21.55" height="6.65" fill="#d7d7eb"/>
<rect x="323.00" y="68.87" width="21.55" height="6.65" fill="#d7d7eb"/>
<rect x="344.50" y="68.87" width="21.55" height="6.65" fill="#ebebf5"/>
<rect x="366.00" y="68.87" width="21.55" height="6.65" fill="#f5f5fa"/>
<rect x="387.50" y="68.87" width="21.55" height="6.65" fill="#d7d7eb"/>
<rect x="280.00" y="75.47" width="21.55" height="6.65" fill="#9696cb"/>
<rect x="301.50" y="75.47" width="21.55" height="6.65" fill="#d7d7eb"/>
<rect x="323.00" y="75.47" width="21.55" height="6.65" fill="#c8c8e4"/>
<rect x="344.50" y="75.47" width="21.55" height="6.65" fill="#e1e1f0"/>
<rect x="366.00" y="75.47" width="21.55" height="6.65" fill="#fafafd"/>
<rect x="387.50" y="75.47" width="21.55" height="6.65" fill="#d7d7eb"/>
<rect x="280.00" y="82.06" width="21.55" height="6.65" fill="#a0a0d0"/>
<rect x="301.50" y="82.06" width="21.55" height="6.65" fill="#e1e1f0"/>
<rect x="323.00" y="82.06" width="21.55" height="6.65" fill="#cdcde6"/>
<rect x="344.50" y="82.06" width="21.55" height="6.65" fill="#dcdcee"/>
<rect x="366.00" y="82.06" width="21.55" height="6.65" fill="#f8f8fc"/>
<rect x="387.50" y="82.06" width="21.55" height="6.65" fill="#cdcde6"/>
<rect x="280.00" y="88.66" width="21.55" height="6.65" fill="#6e6eb7"/>
<rect x="301.50" y="88.66" width="21.55" height="6.65" fill="#afafd7"/>
<rect x="323.00" y="88.66" width="21.55" height="6.65" fill="#b9b9dc"/>
<rect x="344.50" y="88.66" width="21.55" height="6.65" fill="#cdcde6"/>
<rect x="366.00" y="88.66" width="21.55" height="6.65" fill="#e6e6f3"/>
<rect x="387.50" y="88.66" width="21.55" height="6.65" fill="#afafd7"/>
<rect x="280.00" y="95.26" width="21.55" height="6.65" fill="#7878bc"/>
<rect x="301.50" y="95.26" width="21.55" height="6.65" fill="#aaaad5"/>
<rect x="323.00" y="95.26" width="21.55" height="6.65" fill="#b9b9dc"/>
<rect x="344.50" y="95.26" width="21.55" height="6.65" fill="#c3c3e1"/>
<rect x="366.00" y="95.26" width="21.55" height="6.65" fill="#e1e1f0"/>
<rect x="387.50" y="95.26" width="21.55" height="6.65" fill="#aaaad5"/>
<rect x="280.00" y="101.85" width="21.55" height="6.65" fill="#5a5aad"/>
<rect x="301.50" y="101.85" width="21.55" height="6.65" fill="#aaaad5"/>
<rect x="323.00" y="101.85" width="21.55" height="6.65" fill="#b4b4da"/>
<rect x="344.50" y="101.85" width="21.55" height="6.65" fill="#c3c3e1"/>
<rect x="366.00" y="101.85" width="21.55" height="6.65" fill="#dcdcee"/>
<rect x="387.50" y="101.85" width="21.55" height="6.65" fill="#aaaad5"/>
<rect x="280.00" y="108.45" width="21.55" height="6.65" fill="#6e6eb7"/>
<rect x="301.50" y="108.45" width="21.55" height="6.65" fill="#afafd7"/>
<rect x="323.00" y="108.45" width="21.55" height="6.65" fill="#afafd7"/>
<rect x="344.50" y="108.45" width="21.55" height="6.65" fill="#bebedf"/>
<rect x="366.00" y="108.45" width="21.55" height="6.65" fill="#e1e1f0"/>
<rect x="387.50" y="108.45" width="21.55" height="6.65" fill="#a5a5d2"/>
<rect x="280.00" y="115.04" width="21.55" height="6.65" fill="#4646a3"/>
<rect x="301.50" y="115.04" width="21.55" height="6.65" fill="#9b9bcd"/>
<rect x="323.00" y="115.04" width="21.55" height="6.65" fill="#b4b4da"/>
<rect x="344.50" y="115.04" width="21.55" height="6.65" fill="#c3c3e1"/>
<rect x="366.00" y="115.04" width="21.55" height="6.65" fill="#ebebf5"/>
<rect x="387.50" y="115.04" width="21.55" height="6.65" fill="#a5a5d2"/>
<rect x="280.00" y="121.64" width="21.55" height="6.65" fill="#8282c1"/>
<rect x="301.50" y="121.64" width="21.55" height="6.65" fill="#bebedf"/>
<rect x="323.00" y="121.64" width="21.55" height="6.65" fill="#afafd7"/>
<rect x="344.50" y="121.64" width="21.55" height="6.65" fill="#b9b9dc"/>
<rect x="366.00" y="121.64" width="21.55" height="6.65" fill="#aaaad5"/>
<rect x="387.50" y="121.64" width="21.55" height="6.65" fill="#afafd7"/>
<rect x="280.00" y="128.24" width="21.55" height="6.65" fill="#5a5aad"/>
<rect x="301.50" y="128.24" width="21.55" height="6.65" fill="#8c8cc6"/>
<rect x="323.00" y="128.24" width="21.55" height="6.65" fill="#b9b9dc"/>
<rect x="344.50" y="128.24" width="21.55" height="6.65" fill="#c3c3e1"/>
<rect x="366.00" y="128.24" width="21.55" height="6.65" fill="#e6e6f3"/>
<rect x="387.50" y="128.24" width="21.55" height="6.65" fill="#9696cb"/>
<rect x="280.00" y="134.83" width="21.55" height="6.65" fill="#6464b2"/>
<rect x="301.50" y="134.83" width="21.55" height="6.65" fill="#8282c1"/>
<rect x="323.00" y="134.83" width="21.55" height="6.65" fill="#b4b4da"/>
<rect x="344.50" y="134.83" width="21.55" height="6.65" fill="#c3c3e1"/>
<rect x="366.00" y="134.83" width="21.55" height="6.65" fill="#e1e1f0"/>
<rect x="387.50" y="134.83" width="21.55" height="6.65" fill="#9696cb"/>
<rect x="280.00" y="141.43" width="21.55" height="6.65" fill="#8282c1"/>
<rect x="301.50" y="141.43" width="21.55" height="6.65" fill="#cdcde6"/>
<rect x="323.00" y="141.43" width="21.55" height="6.65" fill="#a0a0d0"/>
<rect x="344.50" y="141.43" width="21.55" height="6.65" fill="#afafd7"/>
<rect x="366.00" y="141.43" width="21.55" height="6.65" fill="#aaaad5"/>
<rect x="387.50" y="141.43" width="21.55" height="6.65" fill="#a0a0d0"/>
<rect x="280.00" y="148.02" width="21.55" height="6.65" fill="#8282c1"/>
<rect x="301.50" y="148.02" width="21.55" height="6.65" fill="#bebedf"/>
<rect x="323.00" y="148.02" width="21.55" height="6.65" fill="#a0a0d0"/>
<rect x="344.50" y="148.02" width="21.55" height="6.65" fill="#aaaad5"/>
<rect x="366.00" y="148.02" width="21.55" height="6.65" fill="#bebedf"/>
<rect x="387.50" y="148.02" width="21.55" height="6.65" fill="#aaaad5"/>
<rect x="280.00" y="154.62" width="21.55" height="6.65" fill="#7878bc"/>
<rect x="301.50" y="154.62" width="21.55" height="6.65" fill="#b4b4da"/>
<rect x="323.00" y="154.62" width="21.55" height="6.65" fill="#9b9bcd"/>
<rect x="344.50" y="154.62" width="21.55" height="6.65" fill="#aaaad5"/>
<rect x="366.00" y="154.62" width="21.55" height="6.65" fill="#bebedf"/>
<rect x="387.50" y="154.62" width="21.55" height="6.65" fill="#aaaad5"/>
<rect x="280.00" y="161.22" width="21.55" height="6.65" fill="#5050a8"/>
<rect x="301.50" y="161.22" width="21.55" height="6.65" fill="#8282c1"/>
<rect x="323.00" y="161.22" width="21.55" height="6.65" fill="#a0a0d0"/>
<rect x="344.50" y="161.22" width="21.55" height="6.65" fill="#b4b4da"/>
<rect x="366.00" y="161.22" width="21.55" height="6.65" fill="#e1e1f0"/>
<rect x="387.50" y="161.22" width="21.55" height="6.65" fill="#8282c1"/>
<rect x="280.00" y="167.81" width="21.55" height="6.65" fill="#5a5aad"/>
<rect x="301.50" y="167.81" width="21.55" height="6.65" fill="#8c8cc6"/>
<rect x="323.00" y="167.81" width="21.55" height="6.65" fill="#a5a5d2"/>
<rect x="344.50" y="167.81" width="21.55" height="6.65" fill="#b9b9dc"/>
<rect x="366.00" y="167.81" width="21.55" height="6.65" fill="#dcdcee"/>
<rect x="387.50" y="167.81" width="21.55" height="6.65" fill="#8c8cc6"/>
<rect x="280.00" y="174.41" width="21.55" height="6.65" fill="#282894"/>
<rect x="301.50" y="174.41" width="21.55" height="6.65" fill="#323299"/>
<rect x="323.00" y="174.41" width="21.55" height="6.65" fill="#a0a0d0"/>
<rect x="344.50" y="174.41" width="21.55" height="6.65" fill="#afafd7"/>
<rect x="366.00" y="174.41" width="21.55" height="6.65" fill="#e6e6f3"/>
<rect x="387.50" y="174.41" width="21.55" height="6.65" fill="#6e6eb7"/>
<rect x="280.00" y="181.00" width="21.55" height="6.65" fill="#5050a8"/>
<rect x="301.50" y="181.00" width="21.55" height="6.65" fill="#8585c2"/>
<rect x="323.00" y="181.00" width="21.55" height="6.65" fill="#8f8fc7"/>
<rect x="344.50" y="181.00" width="21.55" height="6.65" fill="#9e9ecf"/>
<rect x="366.00" y="181.00" width="21.55" height="6.65" fill="#bcbcde"/>
<rect x="387.50" y="181.00" width="21.55" height="6.65" fill="#8585c2"/>
<rect x="280.00" y="187.60" width="21.55" height="6.65" fill="#5555aa"/>
<rect x="301.50" y="187.60" width="21.55" height="6.65" fill="#8a8ac5"/>
<rect x="323.00" y="187.60" width="21.55" height="6.65" fill="#8f8fc7"/>
<rect x="344.50" y="187.60" width="21.55" height="6.65" fill="#a3a3d1"/>
<rect x="366.00" y="187.60" width="21.55" height="6.65" fill="#b7b7db"/>
<rect x="387.50" y="187.60" width="21.55" height="6.65" fill="#7b7bbd"/>
<rect x="280.00" y="194.20" width="21.55" height="6.65" fill="#6464b2"/>
<rect x="301.50" y="194.20" width="21.55" height="6.65" fill="#9494ca"/>
<rect x="323.00" y="194.20" width="21.55" height="6.65" fill="#8f8fc7"/>
<rect x="344.50" y="194.20" width="21.55" height="6.65" fill="#a3a3d1"/>
<rect x="366.00" y="194.20" width="21.55" height="6.65" fill="#adadd6"/>
<rect x="387.50" y="194.20" width="21.55" height="6.65" fill="#8f8fc7"/>
<rect x="280.00" y="200.79" width="21.55" height="6.65" fill="#6464b2"/>
<rect x="301.50" y="200.79" width="21.55" height="6.65" fill="#9999cc"/>
<rect x="323.00" y="200.79" width="21.55" height="6.65" fill="#9999cc"/>
<rect x="344.50" y="200.79" width="21.55" height="6.65" fill="#a8a8d4"/>
<rect x="366.00" y="200.79" width="21.55" height="6.65" fill="#b7b7db"/>
<rect x="387.50" y="200.79" width="21.55" height="6.65" fill="#9999cc"/>
<rect x="280.00" y="207.39" width="21.55" height="6.65" fill="#1e1e8f"/>
<rect x="301.50" y="207.39" width="21.55" height="6.65" fill="#2d2d96"/>
<rect x="323.00" y="207.39" width="21.55" height="6.65" fill="#a3a3d1"/>
<rect x="344.50" y="207.39" width="21.55" height="6.65" fill="#b7b7db"/>
<rect x="366.00" y="207.39" width="21.55" height="6.65" fill="#e1e1f0"/>
<rect x="387.50" y="207.39" width="21.55" height="6.65" fill="#5353a9"/>
<rect x="280.00" y="213.98" width="21.55" height="6.65" fill="#5a5aad"/>
<rect x="301.50" y="213.98" width="21.55" height="6.65" fill="#a3a3d1"/>
<rect x="323.00" y="213.98" width="21.55" height="6.65" fill="#6767b3"/>
<rect x="344.50" y="213.98" width="21.55" height="6.65" fill="#9999cc"/>
<rect x="366.00" y="213.98" width="21.55" height="6.65" fill="#9999cc"/>
<rect x="387.50" y="213.98" width="21.55" height="6.65" fill="#9e9ecf"/>
<rect x="280.00" y="220.58" width="21.55" height="6.65" fill="#3c3c9e"/>
<rect x="301.50" y="220.58" width="21.55" height="6.65" fill="#8585c2"/>
<rect x="323.00" y="220.58" width="21.55" height="6.65" fill="#9999cc"/>
<rect x="344.50" y="220.58" width="21.55" height="6.65" fill="#a3a3d1"/>
<rect x="366.00" y="220.58" width="21.55" height="6.65" fill="#adadd6"/>
<rect x="387.50" y="220.58" width="21.55" height="6.65" fill="#8f8fc7"/>
<rect x="280.00" y="227.18" width="21.55" height="6.65" fill="#7878bc"/>
<rect x="301.50" y="227.18" width="21.55" height="6.65" fill="#9999cc"/>
<rect x="323.00" y="227.18" width="21.55" height="6.65" fill="#8f8fc7"/>
<rect x="344.50" y="227.18" width="21.55" height="6.65" fill="#9e9ecf"/>
<rect x="366.00" y="227.18" width="21.55" height="6.65" fill="#adadd6"/>
<rect x="387.50" y="227.18" width="21.55" height="6.65" fill="#8a8ac5"/>
<rect x="280.00" y="233.77" width="21.55" height="6.65" fill="#14148a"/>
<rect x="301.50" y="233.77" width="21.55" height="6.65" fill="#6767b3"/>
<rect x="323.00" y="233.77" width="21.55" height="6.65" fill="#8585c2"/>
<rect x="344.50" y="233.77" width="21.55" height="6.65" fill="#9999cc"/>
<rect x="366.00" y="233.77" width="21.55" height="6.65" fill="#bcbcde"/>
<rect x="387.50" y="233.77" width="21.55" height="6.65" fill="#8585c2"/>
<rect x="280.00" y="240.37" width="21.55" height="6.65" fill="#323299"/>
<rect x="301.50" y="240.37" width="21.55" height="6.65" fill="#7171b8"/>
<rect x="323.00" y="240.37" width="21.55" height="6.65" fill="#8585c2"/>
<rect x="344.50" y="240.37" width="21.55" height="6.65" fill="#9999cc"/>
<rect x="366.00" y="240.37" width="21.55" height="6.65" fill="#9999cc"/>
<rect x="387.50" y="240.37" width="21.55" height="6.65" fill="#8585c2"/>
<rect x="280.00" y="246.96" width="21.55" height="6.65" fill="#4646a3"/>
<rect x="301.50" y="246.96" width="21.55" height="6.65" fill="#8585c2"/>
<rect x="323.00" y="246.96" width="21.55" height="6.65" fill="#7b7bbd"/>
<rect x="344.50" y="246.96" width="21.55" height="6.65" fill="#8f8fc7"/>
<rect x="366.00" y="246.96" width="21.55" height="6.65" fill="#9999cc"/>
<rect x="387.50" y="246.96" width="21.55" height="6.65" fill="#7b7bbd"/>
<rect x="280.00" y="253.56" width="21.55" height="6.65" fill="#5050a8"/>
<rect x="301.50" y="253.56" width="21.55" height="6.65" fill="#8f8fc7"/>
<rect x="323.00" y="253.56" width="21.55" height="6.65" fill="#8080c0"/>
<rect x="344.50" y="253.56" width="21.55" height="6.65" fill="#9999cc"/>
<rect x="366.00" y="253.56" width="21.55" height="6.65" fill="#9e9ecf"/>
<rect x="387.50" y="253.56" width="21.55" height="6.65" fill="#8585c2"/>
<rect x="280.00" y="260.16" width="21.55" height="6.65" fill="#5050a8"/>
<rect x="301.50" y="260.16" width="21.55" height="6.65" fill="#8585c2"/>
<rect x="323.00" y="260.16" width="21.55" height="6.65" fill="#7676bb"/>
<rect x="344.50" y="260.16" width="21.55" height="6.65" fill="#8f8fc7"/>
<rect x="366.00" y="260.16" width="21.55" height="6.65" fill="#8a8ac5"/>
<rect x="387.50" y="260.16" width="21.55" height="6.65" fill="#7171b8"/>
<rect x="280.00" y="266.75" width="21.55" height="6.65" fill="#0f0f87"/>
<rect x="301.50" y="266.75" width="21.55" height="6.65" fill="#0f0f87"/>
<rect x="323.00" y="266.75" width="21.55" height="6.65" fill="#8a8ac5"/>
<rect x="344.50" y="266.75" width="21.55" height="6.65" fill="#9e9ecf"/>
<rect x="366.00" y="266.75" width="21.55" height="6.65" fill="#c6c6e3"/>
<rect x="387.50" y="266.75" width="21.55" height="6.65" fill="#4646a3"/>
<rect x="280.00" y="273.35" width="21.55" height="6.65" fill="#14148a"/>
<rect x="301.50" y="273.35" width="21.55" height="6.65" fill="#1e1e8f"/>
<rect x="323.00" y="273.35" width="21.55" height="6.65" fill="#7b7bbd"/>
<rect x="344.50" y="273.35" width="21.55" height="6.65" fill="#9999cc"/>
<rect x="366.00" y="273.35" width="21.55" height="6.65" fill="#cbcbe5"/>
<rect x="387.50" y="273.35" width="21.55" height="6.65" fill="#4b4ba5"/>
<rect x="280.00" y="279.94" width="21.55" height="6.65" fill="#282894"/>
<rect x="301.50" y="279.94" width="21.55" height="6.65" fill="#5d5dae"/>
<rect x="323.00" y="279.94" width="21.55" height="6.65" fill="#8585c2"/>
<rect x="344.50" y="279.94" width="21.55" height="6.65" fill="#9999cc"/>
<rect x="366.00" y="279.94" width="21.55" height="6.65" fill="#a3a3d1"/>
<rect x="387.50" y="279.94" width="21.55" height="6.65" fill="#7b7bbd"/>
<rect x="280.00" y="286.54" width="21.55" height="6.65" fill="#0a0a85"/>
<rect x="301.50" y="286.54" width="21.55" height="6.65" fill="#19198c"/>
<rect x="323.00" y="286.54" width="21.55" height="6.65" fill="#7979bc"/>
<rect x="344.50" y="286.54" width="21.55" height="6.65" fill="#8888c4"/>
<rect x="366.00" y="286.54" width="21.55" height="6.65" fill="#b5b5da"/>
<rect x="387.50" y="286.54" width="21.55" height="6.65" fill="#5050a8"/>
<rect x="280.00" y="293.14" width="21.55" height="6.65" fill="#5a5aad"/>
<rect x="301.50" y="293.14" width="21.55" height="6.65" fill="#7e7ebf"/>
<rect x="323.00" y="293.14" width="21.55" height="6.65" fill="#6565b2"/>
<rect x="344.50" y="293.14" width="21.55" height="6.65" fill="#7474ba"/>
<rect x="366.00" y="293.14" width="21.55" height="6.65" fill="#7e7ebf"/>
<rect x="387.50" y="293.14" width="21.55" height="6.65" fill="#6060b0"/>
<rect x="280.00" y="299.73" width="21.55" height="6.65" fill="#5050a8"/>
<rect x="301.50" y="299.73" width="21.55" height="6.65" fill="#6a6ab5"/>
<rect x="323.00" y="299.73" width="21.55" height="6.65" fill="#6a6ab5"/>
<rect x="344.50" y="299.73" width="21.55" height="6.65" fill="#7e7ebf"/>
<rect x="366.00" y="299.73" width="21.55" height="6.65" fill="#8888c4"/>
<rect x="387.50" y="299.73" width="21.55" height="6.65" fill="#6060b0"/>
<rect x="280.00" y="306.33" width="21.55" height="6.65" fill="#3c3c9e"/>
<rect x="301.50" y="306.33" width="21.55" height="6.65" fill="#6060b0"/>
<rect x="323.00" y="306.33" width="21.55" height="6.65" fill="#6565b2"/>
<rect x="344.50" y="306.33" width="21.55" height="6.65" fill="#7979bc"/>
<rect x="366.00" y="306.33" width="21.55" height="6.65" fill="#8888c4"/>
<rect x="387.50" y="306.33" width="21.55" height="6.65" fill="#6060b0"/>
<rect x="280.00" y="312.92" width="21.55" height="6.65" fill="#14148a"/>
<rect x="301.50" y="312.92" width="21.55" height="6.65" fill="#19198c"/>
<rect x="323.00" y="312.92" width="21.55" height="6.65" fill="#7474ba"/>
<rect x="344.50" y="312.92" width="21.55" height="6.65" fill="#8888c4"/>
<rect x="366.00" y="312.92" width="21.55" height="6.65" fill="#b0b0d8"/>
<rect x="387.50" y="312.92" width="21.55" height="6.65" fill="#3c3c9e"/>
<rect x="280.00" y="319.52" width="21.55" height="6.65" fill="#5a5aad"/>
<rect x="301.50" y="319.52" width="21.55" height="6.65" fill="#7474ba"/>
<rect x="323.00" y="319.52" width="21.55" height="6.65" fill="#6060b0"/>
<rect x="344.50" y="319.52" width="21.55" height="6.65" fill="#7474ba"/>
<rect x="366.00" y="319.52" width="21.55" height="6.65" fill="#7e7ebf"/>
<rect x="387.50" y="319.52" width="21.55" height="6.65" fill="#6565b2"/>
<rect x="280.00" y="326.12" width="21.55" height="6.65" fill="#1e1e8f"/>
<rect x="301.50" y="326.12" width="21.55" height="6.65" fill="#5656ab"/>
<rect x="323.00" y="326.12" width="21.55" height="6.65" fill="#6060b0"/>
<rect x="344.50" y="326.12" width="21.55" height="6.65" fill="#6f6fb7"/>
<rect x="366.00" y="326.12" width="21.55" height="6.65" fill="#8888c4"/>
<rect x="387.50" y="326.12" width="21.55" height="6.65" fill="#6565b2"/>
<rect x="280.00" y="332.71" width="21.55" height="6.65" fill="#6464b2"/>
<rect x="301.50" y="332.71" width="21.55" height="6.65" fill="#9292c9"/>
<rect x="323.00" y="332.71" width="21.55" height="6.65" fill="#6a6ab5"/>
<rect x="344.50" y="332.71" width="21.55" height="6.65" fill="#6060b0"/>
<rect x="366.00" y="332.71" width="21.55" height="6.65" fill="#0a0a85"/>
<rect x="387.50" y="332.71" width="21.55" height="6.65" fill="#7474ba"/>
<rect x="280.00" y="339.31" width="21.55" height="6.65" fill="#323299"/>
<rect x="301.50" y="339.31" width="21.55" height="6.65" fill="#6060b0"/>
<rect x="323.00" y="339.31" width="21.55" height="6.65" fill="#6a6ab5"/>
<rect x="344.50" y="339.31" width="21.55" height="6.65" fill="#7e7ebf"/>
<rect x="366.00" y="339.31" width="21.55" height="6.65" fill="#8888c4"/>
<rect x="387.50" y="339.31" width="21.55" height="6.65" fill="#6565b2"/>
<rect x="280.00" y="345.90" width="21.55" height="6.65" fill="#0a0a85"/>
<rect x="301.50" y="345.90" width="21.55" height="6.65" fill="#0f0f87"/>
<rect x="323.00" y="345.90" width="21.55" height="6.65" fill="#7474ba"/>
<rect x="344.50" y="345.90" width="21.55" height="6.65" fill="#7e7ebf"/>
<rect x="366.00" y="345.90" width="21.55" height="6.65" fill="#b0b0d8"/>
<rect x="387.50" y="345.90" width="21.55" height="6.65" fill="#5050a8"/>
<path d="M301.50 22.70V352.50M323.00 22.70V352.50M344.50 22.70V352.50M366.00 22.70V352.50M387.50 22.70V352.50M280.00 29.30H409.00M280.00 35.89H409.00M280.00 42.49H409.00M280.00 49.08H409.00M280.00 55.68H409.00M280.00 62.28H409.00M280.00 68.87H409.00M280.00 75.47H409.00M280.00 82.06H409.00M280.00 88.66H409.00M280.00 95.26H409.00M280.00 101.85H409.00M280.00 108.45H409.00M280.00 115.04H409.00M280.00 121.64H409.00M280.00 128.24H409.00M280.00 134.83H409.00M280.00 141.43H409.00M280.00 148.02H409.00M280.00 154.62H409.00M280.00 161.22H409.00M280.00 167.81H409.00M280.00 174.41H409.00M280.00 181.00H409.00M280.00 187.60H409.00M280.00 194.20H409.00M280.00 200.79H409.00M280.00 207.39H409.00M280.00 213.98H409.00M280.00 220.58H409.00M280.00 227.18H409.00M280.00 233.77H409.00M280.00 240.37H409.00M280.00 246.96H409.00M280.00 253.56H409.00M280.00 260.16H409.00M280.00 266.75H409.00M280.00 273.35H409.00M280.00 279.94H409.00M280.00 286.54H409.00M280.00 293.14H409.00M280.00 299.73H409.00M280.00 306.33H409.00M280.00 312.92H409.00M280.00 319.52H409.00M280.00 326.12H409.00M280.00 332.71H409.00M280.00 339.31H409.00M280.00 345.90H409.00" stroke="#ffffff" stroke-opacity="0.18" stroke-width="0.7" fill="none"/>
<text x="413.30" y="28.21" transform="rotate(0.05 413.30 28.21)" class="rl">Metabolic pathways</text>
<text x="413.30" y="34.81" transform="rotate(0.05 413.30 34.81)" class="rl">Biosynthesis of secondary metabolites</text>
<text x="413.30" y="41.40" transform="rotate(0.05 413.30 41.40)" class="rl">Microbial metabolism in diverse environments</text>
<text x="413.30" y="48.00" transform="rotate(0.05 413.30 48.00)" class="rl">Biosynthesis of amino acids</text>
<text x="413.30" y="54.60" transform="rotate(0.05 413.30 54.60)" class="rl">ABC transporters</text>
<text x="413.30" y="61.19" transform="rotate(0.05 413.30 61.19)" class="rl">Carbon metabolism</text>
<text x="413.30" y="67.79" transform="rotate(0.05 413.30 67.79)" class="rl">Two–component system</text>
<text x="413.30" y="74.39" transform="rotate(0.05 413.30 74.39)" class="rl">Quorum sensing</text>
<text x="413.30" y="80.98" transform="rotate(0.05 413.30 80.98)" class="rl">Purine metabolism</text>
<text x="413.30" y="87.58" transform="rotate(0.05 413.30 87.58)" class="rl">Ribosome</text>
<text x="413.30" y="94.17" transform="rotate(0.05 413.30 94.17)" class="rl">Pyruvate metabolism</text>
<text x="413.30" y="100.77" transform="rotate(0.05 413.30 100.77)" class="rl">Glycolysis / Gluconeogenesis</text>
<text x="413.30" y="107.37" transform="rotate(0.05 413.30 107.37)" class="rl">Oxidative phosphorylation</text>
<text x="413.30" y="113.96" transform="rotate(0.05 413.30 113.96)" class="rl">Glycine, serine and threonine metabolism</text>
<text x="413.30" y="120.56" transform="rotate(0.05 413.30 120.56)" class="rl">Glyoxylate and dicarboxylate metabolism</text>
<text x="413.30" y="127.15" transform="rotate(0.05 413.30 127.15)" class="rl">Amino sugar and nucleotide sugar metabolism</text>
<text x="413.30" y="133.75" transform="rotate(0.05 413.30 133.75)" class="rl">Fatty acid metabolism</text>
<text x="413.30" y="140.34" transform="rotate(0.05 413.30 140.34)" class="rl">Butanoate metabolism</text>
<text x="413.30" y="146.94" transform="rotate(0.05 413.30 146.94)" class="rl">Starch and sucrose metabolism</text>
<text x="413.30" y="153.54" transform="rotate(0.05 413.30 153.54)" class="rl">Pyrimidine metabolism</text>
<text x="413.30" y="160.13" transform="rotate(0.05 413.30 160.13)" class="rl">Cysteine and methionine metabolism</text>
<text x="413.30" y="166.73" transform="rotate(0.05 413.30 166.73)" class="rl">Propanoate metabolism</text>
<text x="413.30" y="173.32" transform="rotate(0.05 413.30 173.32)" class="rl">Carbon fixation pathways in prokaryotes</text>
<text x="413.30" y="179.92" transform="rotate(0.05 413.30 179.92)" class="rl">Valine, leucine and isoleucine degradation</text>
<text x="413.30" y="186.52" transform="rotate(0.05 413.30 186.52)" class="rl">Alanine, aspartate and glutamate metabolism</text>
<text x="413.30" y="193.11" transform="rotate(0.05 413.30 193.11)" class="rl">Methane metabolism</text>
<text x="413.30" y="199.71" transform="rotate(0.05 413.30 199.71)" class="rl">Aminoacyl–tRNA biosynthesis</text>
<text x="413.30" y="206.31" transform="rotate(0.05 413.30 206.31)" class="rl">2-Oxocarboxylic acid metabolism</text>
<text x="413.30" y="212.90" transform="rotate(0.05 413.30 212.90)" class="rl">Fatty acid degradation</text>
<text x="413.30" y="219.50" transform="rotate(0.05 413.30 219.50)" class="rl">Bacterial secretion system</text>
<text x="413.30" y="226.09" transform="rotate(0.05 413.30 226.09)" class="rl">Sulfur metabolism</text>
<text x="413.30" y="232.69" transform="rotate(0.05 413.30 232.69)" class="rl">Pentose phosphate pathway</text>
<text x="413.30" y="239.28" transform="rotate(0.05 413.30 239.28)" class="rl">Porphyrin and chlorophyll metabolism</text>
<text x="413.30" y="245.88" transform="rotate(0.05 413.30 245.88)" class="rl">Citrate cycle (TCA cycle)</text>
<text x="413.30" y="252.48" transform="rotate(0.05 413.30 252.48)" class="rl">Phenylalanine, tyrosine and tryptophan biosynthesis</text>
<text x="413.30" y="259.07" transform="rotate(0.05 413.30 259.07)" class="rl">Homologous recombination</text>
<text x="413.30" y="265.67" transform="rotate(0.05 413.30 265.67)" class="rl">Peptidoglycan biosynthesis</text>
<text x="413.30" y="272.26" transform="rotate(0.05 413.30 272.26)" class="rl">Phenylalanine metabolism</text>
<text x="413.30" y="278.86" transform="rotate(0.05 413.30 278.86)" class="rl">Benzoate degradation</text>
<text x="413.30" y="285.46" transform="rotate(0.05 413.30 285.46)" class="rl">Arginine and proline metabolism</text>
<text x="413.30" y="292.05" transform="rotate(0.05 413.30 292.05)" class="rl">Tryptophan metabolism</text>
<text x="413.30" y="298.65" transform="rotate(0.05 413.30 298.65)" class="rl">Fructose and mannose metabolism</text>
<text x="413.30" y="305.24" transform="rotate(0.05 413.30 305.24)" class="rl">Fatty acid biosynthesis</text>
<text x="413.30" y="311.84" transform="rotate(0.05 413.30 311.84)" class="rl">Arginine biosynthesis</text>
<text x="413.30" y="318.44" transform="rotate(0.05 413.30 318.44)" class="rl">Degradation of aromatic compounds</text>
<text x="413.30" y="325.03" transform="rotate(0.05 413.30 325.03)" class="rl">Mismatch repair</text>
<text x="413.30" y="331.63" transform="rotate(0.05 413.30 331.63)" class="rl">Folate biosynthesis</text>
<text x="413.30" y="338.22" transform="rotate(0.05 413.30 338.22)" class="rl">Phosphotransferase system (PTS)</text>
<text x="413.30" y="344.82" transform="rotate(0.05 413.30 344.82)" class="rl">Glycerophospholipid metabolism</text>
<text x="413.30" y="351.42" transform="rotate(0.05 413.30 351.42)" class="rl">Lysine degradation</text>
<text x="290.75" y="358.40" transform="rotate(0.05 290.75 358.40)" class="xl" text-anchor="middle">PF</text>
<text x="312.25" y="358.40" transform="rotate(0.05 312.25 358.40)" class="xl" text-anchor="middle">PM</text>
<text x="333.75" y="358.40" transform="rotate(0.05 333.75 358.40)" class="xl" text-anchor="middle">GF</text>
<text x="355.25" y="358.40" transform="rotate(0.05 355.25 358.40)" class="xl" text-anchor="middle">GM</text>
<text x="376.75" y="358.40" transform="rotate(0.05 376.75 358.40)" class="xl" text-anchor="middle">EF</text>
<text x="398.25" y="358.40" transform="rotate(0.05 398.25 358.40)" class="xl" text-anchor="middle">EM</text>
<defs><linearGradient id="ga" x1="0" y1="0" x2="0" y2="1"><stop offset="0" stop-color="#be2028"/><stop offset="0.510" stop-color="#ffffff"/><stop offset="1" stop-color="#000080"/></linearGradient></defs>
<rect x="250.0" y="187.8" width="7.0" height="164.59999999999997" fill="url(#ga)"/>
<text x="247.30" y="196.80" transform="rotate(0.05 247.30 196.80)" class="cl " text-anchor="end">7</text>
<line x1="247.90" x2="250.00" y1="195.10" y2="195.10" stroke="#888" stroke-width="0.3"/>
<text x="247.30" y="216.00" transform="rotate(0.05 247.30 216.00)" class="cl " text-anchor="end">6</text>
<line x1="247.90" x2="250.00" y1="214.30" y2="214.30" stroke="#888" stroke-width="0.3"/>
<text x="247.30" y="235.20" transform="rotate(0.05 247.30 235.20)" class="cl " text-anchor="end">5</text>
<line x1="247.90" x2="250.00" y1="233.50" y2="233.50" stroke="#888" stroke-width="0.3"/>
<text x="247.30" y="254.40" transform="rotate(0.05 247.30 254.40)" class="cl " text-anchor="end">4</text>
<line x1="247.90" x2="250.00" y1="252.70" y2="252.70" stroke="#888" stroke-width="0.3"/>
<text x="247.30" y="273.60" transform="rotate(0.05 247.30 273.60)" class="cl " text-anchor="end">3</text>
<line x1="247.90" x2="250.00" y1="271.90" y2="271.90" stroke="#888" stroke-width="0.3"/>
<text x="247.30" y="292.80" transform="rotate(0.05 247.30 292.80)" class="cl " text-anchor="end">2</text>
<line x1="247.90" x2="250.00" y1="291.10" y2="291.10" stroke="#888" stroke-width="0.3"/>
<text x="247.30" y="312.00" transform="rotate(0.05 247.30 312.00)" class="cl " text-anchor="end">1</text>
<line x1="247.90" x2="250.00" y1="310.30" y2="310.30" stroke="#888" stroke-width="0.3"/>
<text x="247.30" y="331.20" transform="rotate(0.05 247.30 331.20)" class="cl " text-anchor="end">0</text>
<line x1="247.90" x2="250.00" y1="329.50" y2="329.50" stroke="#888" stroke-width="0.3"/>
<text x="247.30" y="350.40" transform="rotate(0.05 247.30 350.40)" class="cl " text-anchor="end">-1</text>
<line x1="247.90" x2="250.00" y1="348.70" y2="348.70" stroke="#888" stroke-width="0.3"/>
<defs><linearGradient id="gb" x1="0" y1="0" x2="0" y2="1"><stop offset="0" stop-color="#be2028"/><stop offset="0.518" stop-color="#ffffff"/><stop offset="1" stop-color="#000080"/></linearGradient></defs>
<rect x="539.2" y="187.8" width="7.399999999999977" height="164.59999999999997" fill="url(#gb)"/>
<text x="537.00" y="192.50" transform="rotate(0.05 537.00 192.50)" class="cl cb" text-anchor="end">7.0</text>
<line x1="537.60" x2="539.20" y1="190.80" y2="190.80" stroke="#888" stroke-width="0.3"/>
<text x="537.00" y="207.58" transform="rotate(0.05 537.00 207.58)" class="cl cb" text-anchor="end">6.8</text>
<line x1="537.60" x2="539.20" y1="205.88" y2="205.88" stroke="#888" stroke-width="0.3"/>
<text x="537.00" y="222.66" transform="rotate(0.05 537.00 222.66)" class="cl cb" text-anchor="end">6.6</text>
<line x1="537.60" x2="539.20" y1="220.96" y2="220.96" stroke="#888" stroke-width="0.3"/>
<text x="537.00" y="237.74" transform="rotate(0.05 537.00 237.74)" class="cl cb" text-anchor="end">6.4</text>
<line x1="537.60" x2="539.20" y1="236.04" y2="236.04" stroke="#888" stroke-width="0.3"/>
<text x="537.00" y="252.82" transform="rotate(0.05 537.00 252.82)" class="cl cb" text-anchor="end">6.2</text>
<line x1="537.60" x2="539.20" y1="251.12" y2="251.12" stroke="#888" stroke-width="0.3"/>
<text x="537.00" y="267.90" transform="rotate(0.05 537.00 267.90)" class="cl cb" text-anchor="end">6.0</text>
<line x1="537.60" x2="539.20" y1="266.20" y2="266.20" stroke="#888" stroke-width="0.3"/>
<text x="537.00" y="282.98" transform="rotate(0.05 537.00 282.98)" class="cl cb" text-anchor="end">5.8</text>
<line x1="537.60" x2="539.20" y1="281.28" y2="281.28" stroke="#888" stroke-width="0.3"/>
<text x="537.00" y="298.06" transform="rotate(0.05 537.00 298.06)" class="cl cb" text-anchor="end">5.6</text>
<line x1="537.60" x2="539.20" y1="296.36" y2="296.36" stroke="#888" stroke-width="0.3"/>
<text x="537.00" y="313.14" transform="rotate(0.05 537.00 313.14)" class="cl cb" text-anchor="end">5.4</text>
<line x1="537.60" x2="539.20" y1="311.44" y2="311.44" stroke="#888" stroke-width="0.3"/>
<text x="537.00" y="328.22" transform="rotate(0.05 537.00 328.22)" class="cl cb" text-anchor="end">5.2</text>
<line x1="537.60" x2="539.20" y1="326.52" y2="326.52" stroke="#888" stroke-width="0.3"/>
<text x="537.00" y="343.30" transform="rotate(0.05 537.00 343.30)" class="cl cb" text-anchor="end">5.0</text>
<line x1="537.60" x2="539.20" y1="341.60" y2="341.60" stroke="#888" stroke-width="0.3"/>
<text x="11.3" y="10.8" transform="rotate(0.05 11.3 10.8)" class="pl">A</text>
<text x="41.1" y="10.8" transform="rotate(0.05 41.1 10.8)" class="tt">Heatmap of Pathway Level 2</text>
<text x="283.6" y="10.5" transform="rotate(0.05 283.6 10.5)" class="pl">B</text>
<text x="307.2" y="11.0" transform="rotate(0.05 307.2 11.0)" class="tt" style="font-size:7.4px">Heatmap of Pathway Level 3</text>
</svg>
</body></html>
